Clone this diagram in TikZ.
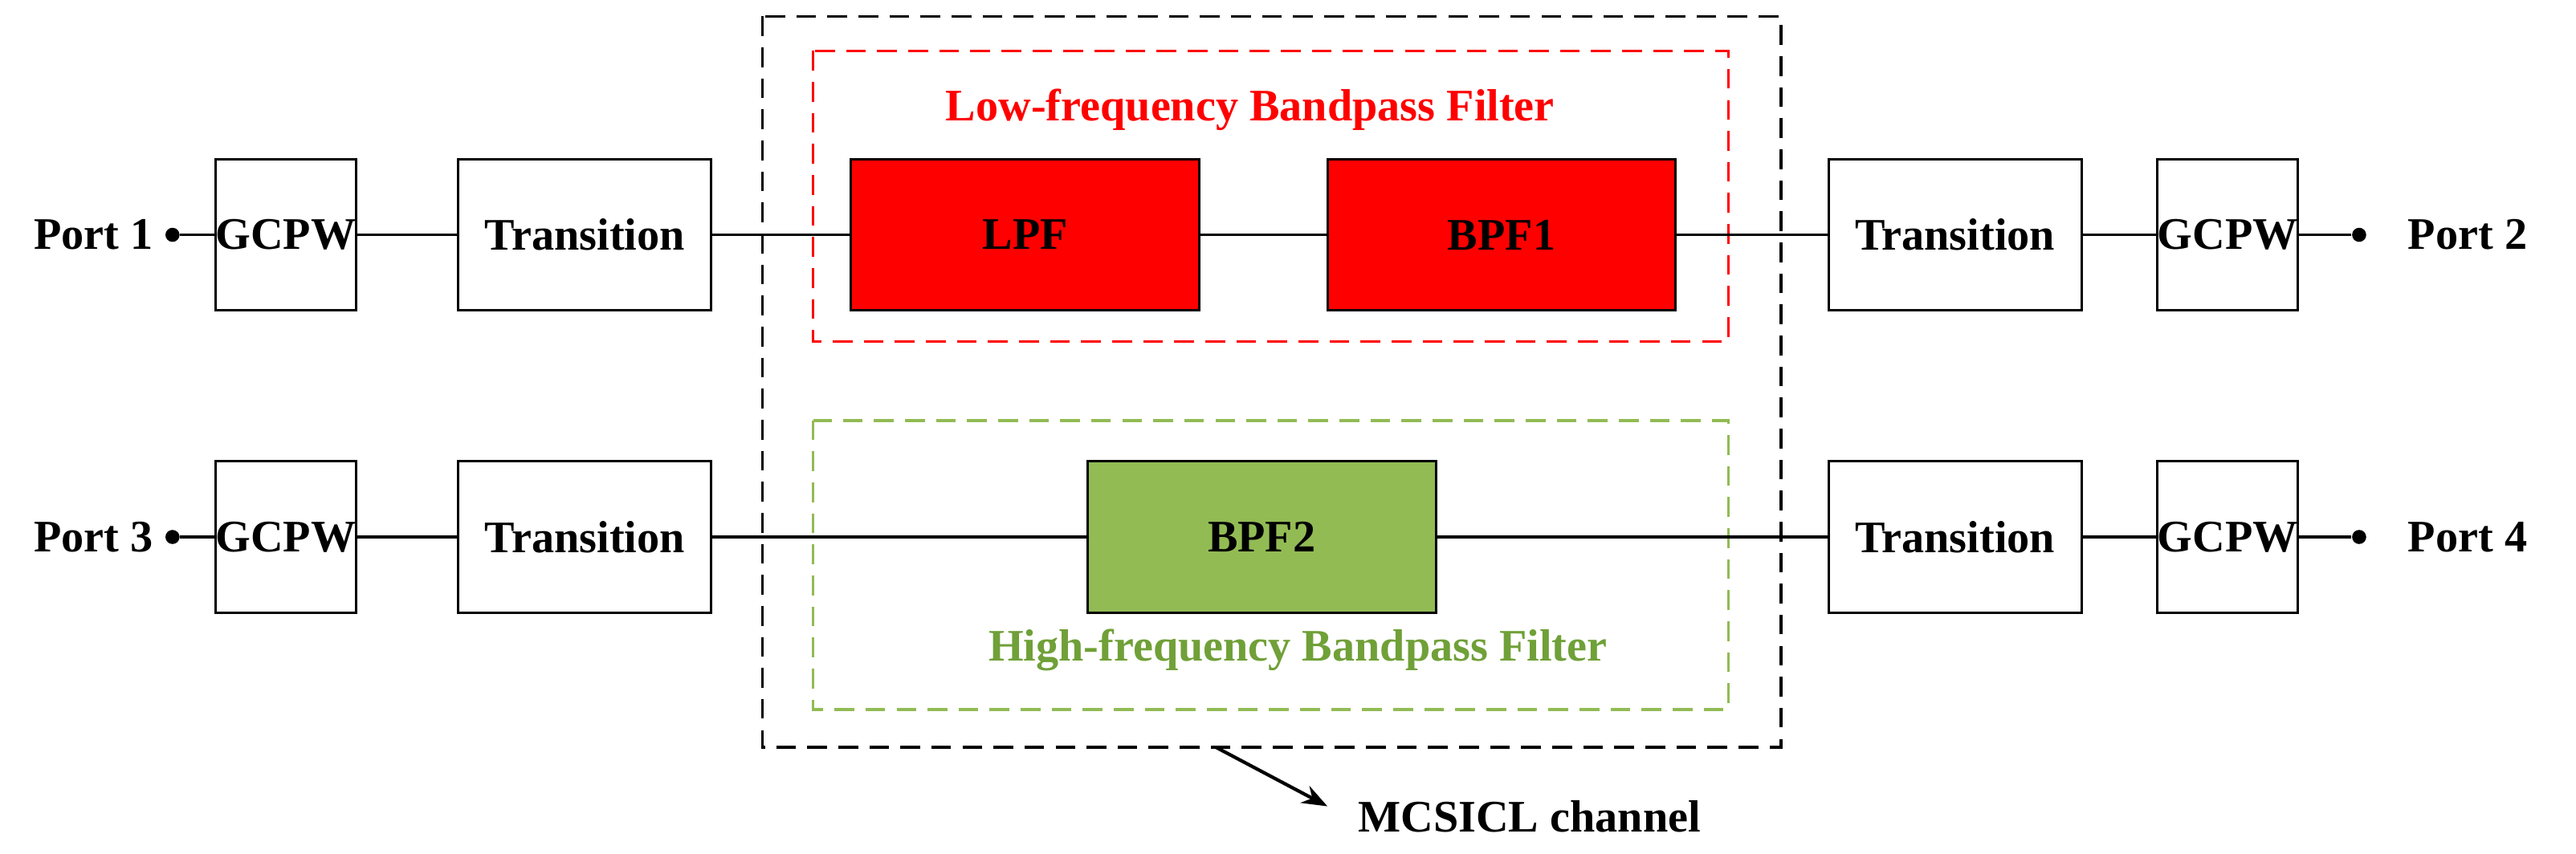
\documentclass[tikz,border=0pt]{standalone}
\usepackage{fontspec}
\setmainfont{Liberation Serif}
\usetikzlibrary{arrows.meta}
\begin{document}
\begin{tikzpicture}[x=0.02046cm,y=-0.02046cm,
 box/.style={draw,line width=0.9pt,minimum height=92*0.02046cm,font=\fontsize{16}{18}\selectfont\bfseries,inner sep=0pt},
 lbl/.style={font=\fontsize{16}{18}\selectfont\bfseries},
 dot/.style={circle,fill,inner sep=0pt,minimum size=5pt},
 ln/.style={line width=0.9pt},
 dsh/.style={line width=1pt,dash pattern=on 7pt off 4pt}]
\useasboundingbox (0,0) rectangle (1568,520);
\definecolor{gr}{RGB}{146,187,84}
\definecolor{grd}{RGB}{112,160,56}
% dashed frames
\draw[dsh] (464,10) rectangle (1084,455);
\draw[dsh,red] (495,31) rectangle (1052,208);
\draw[dsh,gr] (495,256) rectangle (1052,432);
\node[lbl,red] (lt) at (761,67) {Low-frequency Bandpass Filter};
\node[lbl,grd] (ht) at (790,396) {High-frequency Bandpass Filter};
% row 1
\node[lbl] (p1) at (57,143) {Port 1};
\node[dot] (d1) at (105,143) {};
\node[box,minimum width=84*0.02046cm] (g1) at (174,143) {GCPW};
\node[box,minimum width=154*0.02046cm] (t1) at (356,143) {Transition};
\node[box,minimum width=212*0.02046cm,fill=red] (lpf) at (624,143) {LPF};
\node[box,minimum width=212*0.02046cm,fill=red] (bpf1) at (914,143) {BPF1};
\node[box,minimum width=154*0.02046cm] (t2) at (1190,143) {Transition};
\node[box,minimum width=84*0.02046cm] (g2) at (1356,143) {GCPW};
\node[dot] (d2) at (1436,143) {};
\node[lbl] (p2) at (1502,143) {Port 2};
\draw[ln] (d1)--(g1) (g1)--(t1) (t1)--(lpf) (lpf)--(bpf1) (bpf1)--(t2) (t2)--(g2) (g2)--(d2);
% row 2
\node[lbl] (p3) at (57,327) {Port 3};
\node[dot] (d3) at (105,327) {};
\node[box,minimum width=84*0.02046cm] (g3) at (174,327) {GCPW};
\node[box,minimum width=154*0.02046cm] (t3) at (356,327) {Transition};
\node[box,minimum width=212*0.02046cm,fill=gr] (bpf2) at (768,327) {BPF2};
\node[box,minimum width=154*0.02046cm] (t4) at (1190,327) {Transition};
\node[box,minimum width=84*0.02046cm] (g4) at (1356,327) {GCPW};
\node[dot] (d4) at (1436,327) {};
\node[lbl] (p4) at (1502,327) {Port 4};
\draw[ln] (d3)--(g3) (g3)--(t3) (t3)--(bpf2) (bpf2)--(t4) (t4)--(g4) (g4)--(d4);
% channel label
\coordinate (a0) at (740,455);
\coordinate (a1) at (808,491);
\draw[line width=1.2pt,-{Stealth[length=9pt]}] (a0)--(a1);
\node[lbl] (mc) at (931,497) {MCSICL channel};
\end{tikzpicture}
\end{document}
